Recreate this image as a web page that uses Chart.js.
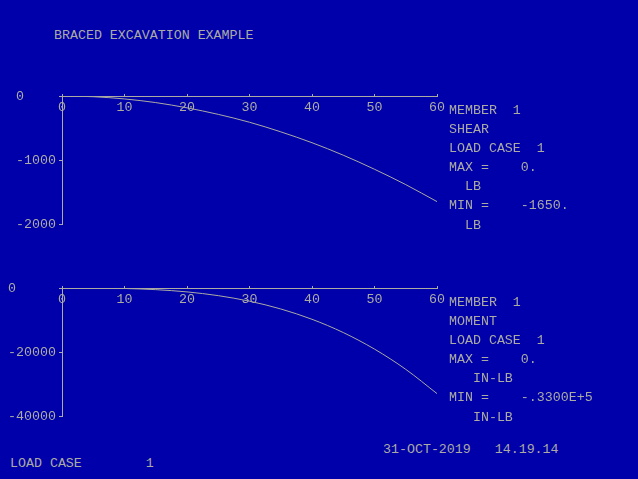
<!DOCTYPE html>
<html>
<head>
<meta charset="utf-8">
<script src="https://cdn.jsdelivr.net/npm/chart.js@4"></script>
<style>
  html, body { margin: 0; padding: 0; background: #0000aa; }
  body { width: 638px; height: 479px; position: relative; overflow: hidden;
         font-family: "Liberation Mono", monospace; font-size: 13.3px; color: #ababa3; }
  canvas { position: absolute; left: 0; }
  .txt { position: absolute; white-space: pre; line-height: 19.1px; }
</style>
</head>
<body>
<div class="txt" style="left:54px; top:26px;">BRACED EXCAVATION EXAMPLE</div>

<canvas id="shearChart" width="454" height="160" style="top:80px;"></canvas>
<div class="txt" style="left:449px; top:101px;">MEMBER  1
SHEAR
LOAD CASE  1
MAX =    0.
  LB
MIN =    -1650.
  LB</div>

<canvas id="momentChart" width="454" height="160" style="top:272px;"></canvas>
<div class="txt" style="left:449px; top:293px;">MEMBER  1
MOMENT
LOAD CASE  1
MAX =    0.
   IN-LB
MIN =    -.3300E+5
   IN-LB</div>

<div class="txt" style="left:383px; top:440px;">31-OCT-2019   14.19.14</div>
<div class="txt" style="left:10px; top:454px;">LOAD CASE        1</div>

<script>
// depth along member (ft) and results
let depthFt = [0, 5, 10, 15, 20, 25, 30, 35, 40, 45, 50, 55, 60];
let shearLb = [0, -11, -46, -103, -185, -287, -410, -560, -730, -925, -1145, -1385, -1650];
let momentInLb = [0, -20, -150, -515, -1220, -2390, -4125, -6550, -9780, -13920, -19100, -25420, -33000];

let xTicks = [0, 10, 20, 30, 40, 50, 60];
let shearTicks = [0, -1000, -2000];
let momentTicks = [0, -20000, -40000];

let fg = "#ababa3";
let tickFont = { family: "Liberation Mono", size: 13.3 };

function makeChart(id, values, yTicks, padLeft, yWidth) {
    let ctx = document.getElementById(id).getContext("2d");
    let points = depthFt.map((d, i) => ({ x: d, y: values[i] }));

    return new Chart(ctx, {
        type: "line",
        data: {
            datasets: [{
                data: points,
                borderColor: fg,
                borderWidth: 1,
                pointRadius: 0,
                cubicInterpolationMode: "monotone",
                fill: false
            }]
        },
        options: {
            responsive: false,
            animation: false,
            events: [],
            layout: { padding: { left: padLeft, right: 17, top: 16, bottom: 16 } },
            plugins: { legend: { display: false }, tooltip: { enabled: false } },
            scales: {
                x: {
                    type: "linear",
                    position: { y: 0 },
                    min: 0,
                    max: 60,
                    afterBuildTicks: (s) => { s.ticks = xTicks.map(v => ({ value: v })); },
                    afterFit: (s) => { s.height = 0; },
                    grid: { drawOnChartArea: false, drawTicks: true, tickLength: -3, color: fg },
                    border: { color: fg, width: 1 },
                    ticks: { color: fg, font: tickFont, padding: 6, maxRotation: 0,
                             autoSkip: false, callback: v => String(v) }
                },
                y: {
                    position: "left",
                    min: yTicks[yTicks.length - 1],
                    max: 0,
                    afterBuildTicks: (s) => { s.ticks = yTicks.map(v => ({ value: v })); },
                    afterFit: (s) => { s.width = yWidth; },
                    grid: { drawOnChartArea: false, drawTicks: true, tickLength: 3, color: fg },
                    border: { color: fg, width: 1 },
                    ticks: { color: fg, font: tickFont, crossAlign: "far", padding: 3,
                             autoSkip: false, callback: v => String(v) }
                }
            }
        }
    });
}

makeChart("shearChart", shearLb, shearTicks, 16, 46);
makeChart("momentChart", momentInLb, momentTicks, 8, 54);
</script>
</body>
</html>
